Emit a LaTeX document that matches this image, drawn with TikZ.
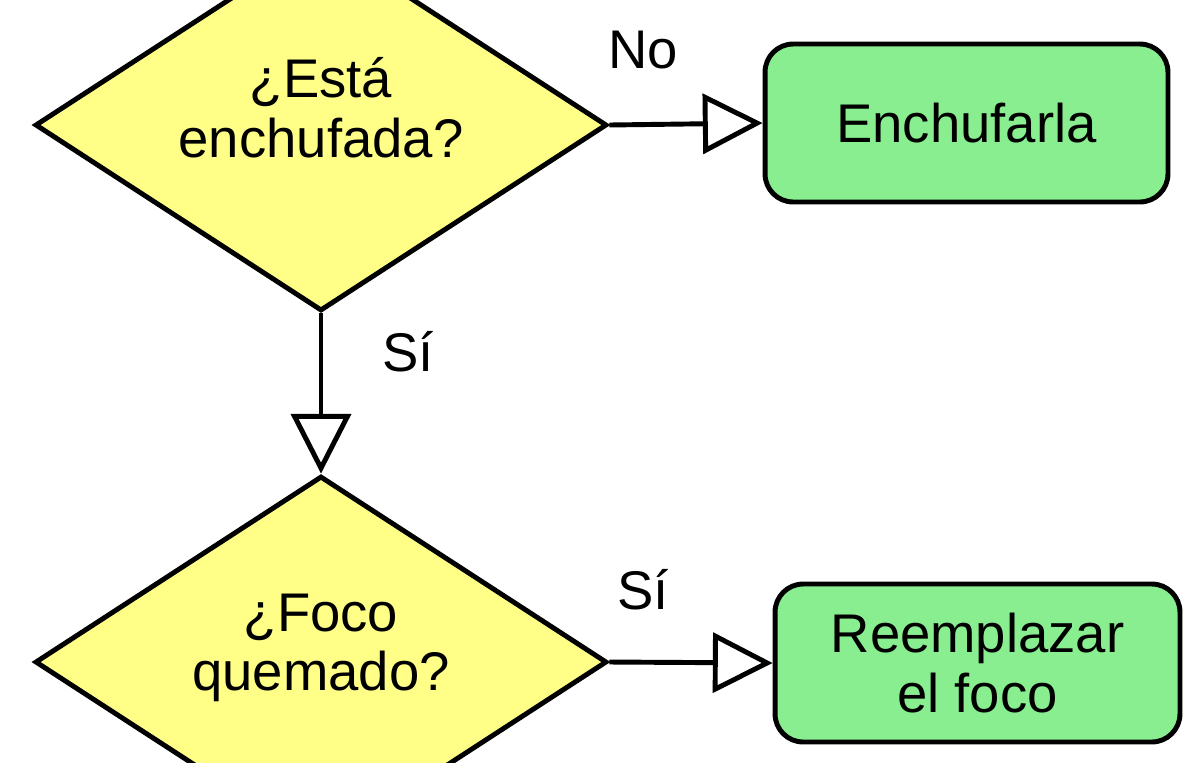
\documentclass[tikz,border=0pt]{standalone}
\usepackage{fontspec}
\setmainfont{Liberation Sans}
\usetikzlibrary{shapes.geometric,arrows.meta}
\definecolor{dyel}{HTML}{FFFF88}
\definecolor{bgrn}{HTML}{88EE90}
\begin{document}
\begin{tikzpicture}[x=0.02cm,y=-0.02cm,
  dec/.style={diamond,draw,fill=dyel,line width=2.8pt,inner sep=0pt,minimum width=11.44cm,minimum height=7.44cm},
  act/.style={draw,fill=bgrn,line width=2.8pt,rounded corners=16pt,align=center,font=\fontsize{31}{36}\selectfont},
  txt/.style={align=center,font=\fontsize{31}{36}\selectfont},
  arr/.style={line width=2.8pt,-{Triangle[open,length=34pt,width=34pt,line width=2.8pt]}}]
\useasboundingbox (0,0) rectangle (1200,762);
\clip (0,0) rectangle (1200,762);
\node[dec] (d1) at (321,125) {};
\node[dec] (d2) at (321,662) {};
\node[txt] at (321,108) {¿Está\\[-2pt]enchufada?};
\node[txt] at (321,648) {¿Foco\\[-2pt]quemado?};
\node[act,minimum width=8.06cm,minimum height=3.16cm] (b1) at (966.5,123) {Enchufarla};
\node[act,minimum width=8.1cm,minimum height=3.16cm] (b2) at (977.5,663) {Reemplazar\\[-2pt]el foco};
\draw[arr] (d1.east) -- (b1.west);
\draw[arr] (d2.east) -- (b2.west);
\draw[arr] (d1.south) -- (d2.north);
\node[txt] at (643,50) {No};
\node[txt] at (408,352) {Sí};
\node[txt] at (643,590) {Sí};
\end{tikzpicture}
\end{document}
